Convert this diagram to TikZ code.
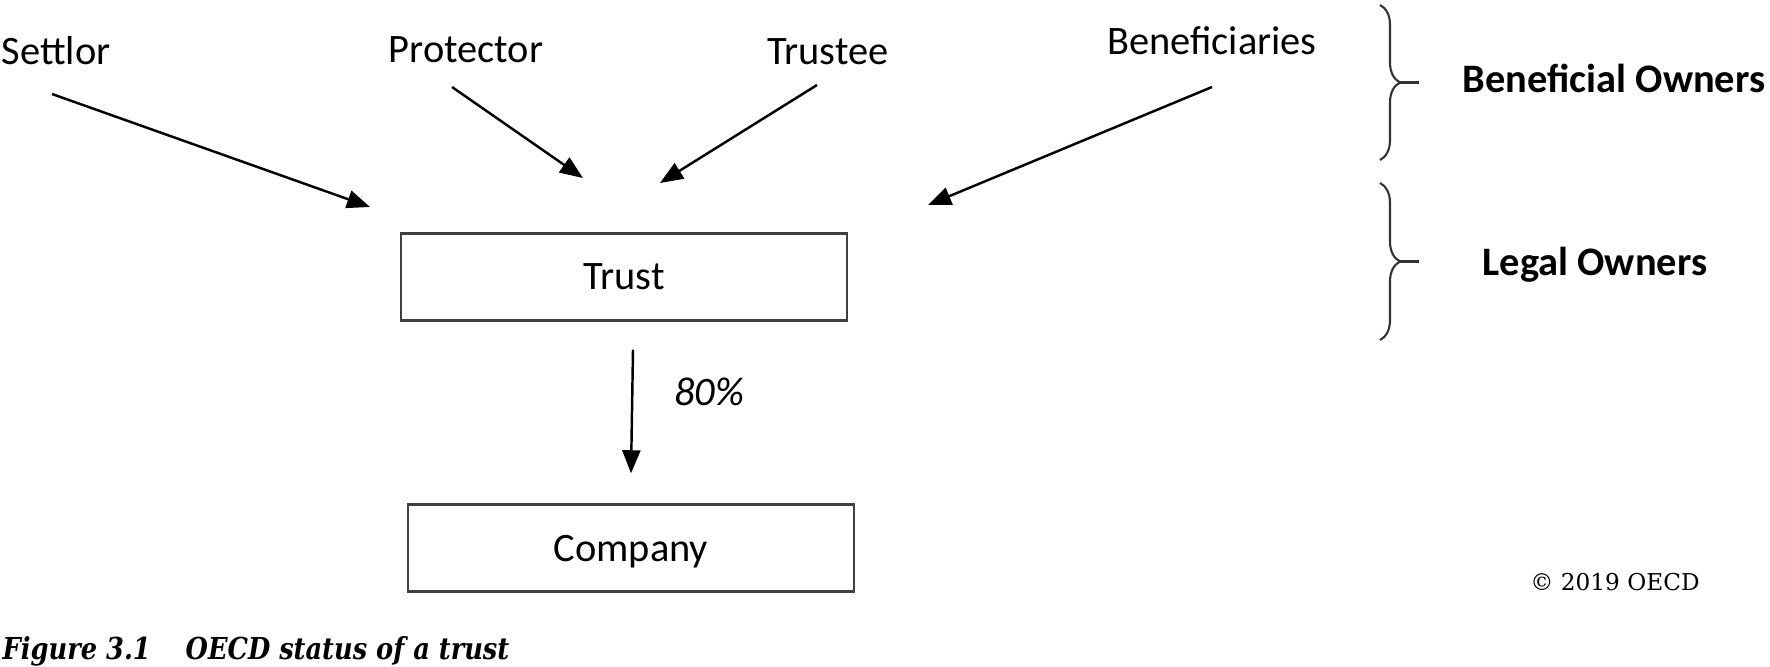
\documentclass[tikz,border=0pt]{standalone}
\usepackage{fontspec}
\setmainfont{Carlito}
\newfontfamily\oecdfont{DejaVu Serif}
\newfontfamily\capfont[FakeStretch=0.85]{DejaVu Serif}
\usetikzlibrary{arrows.meta,decorations.pathreplacing}

\begin{document}
\begin{tikzpicture}[>={Triangle[length=2.3mm,width=1.8mm]},
  font=\fontsize{11.5}{13}\selectfont,
  party/.style={anchor=base,inner sep=0pt},
  entity/.style={draw=black!75,line width=0.7pt,minimum width=4.46cm,
    minimum height=0.87cm,inner sep=0pt,text depth=0pt},
  link/.style={->,line width=0.7pt},
  owner/.style={decorate,decoration={brace,amplitude=0.2cm},line width=0.6pt,black!80},
  ownlabel/.style={anchor=base west,inner sep=0pt,font=\fontsize{11.5}{13}\selectfont\bfseries}]
  \useasboundingbox (0,0) rectangle (17.70,-6.67);
  % parties on top
  \node[party,anchor=base west] (settlor) at (0.01,-0.65) {Settlor};
  \node[party] (protector) at (4.66,-0.63) {Protector};
  \node[party] (trustee) at (8.28,-0.65) {Trustee};
  \node[party] (benef) at (12.12,-0.55) {Beneficiaries};
  % trust and company
  \node[entity] (trust) at (6.24,-2.77) {Trust};
  \node[entity] (company) at (6.31,-5.48) {Company};
  % arrows stop short of the trust box
  \coordinate (settlor-from) at (0.52,-0.94);   \coordinate (settlor-tip) at (3.70,-2.07);
  \coordinate (protector-from) at (4.52,-0.87); \coordinate (protector-tip) at (5.83,-1.78);
  \coordinate (trustee-from) at (8.17,-0.85);   \coordinate (trustee-tip) at (6.60,-1.83);
  \coordinate (benef-from) at (12.12,-0.87);    \coordinate (benef-tip) at (9.28,-2.05);
  \foreach \who in {settlor,protector,trustee,benef}
    \draw[link] (\who-from) -- (\who-tip);
  % 80% holding
  \draw[link] ([xshift=0.9mm,yshift=-2.8mm]trust.south) -- ([yshift=3.0mm]company.north);
  \node[party,font=\fontsize{11.5}{13}\selectfont\itshape] (share) at (7.09,-4.05) {80\%};
  % braces
  \coordinate (bo-top) at (13.80,-0.05); \coordinate (bo-bot) at (13.80,-1.60);
  \coordinate (lo-top) at (13.80,-1.83); \coordinate (lo-bot) at (13.80,-3.40);
  \draw[owner] (bo-top) -- (bo-bot);
  \draw[owner] (lo-top) -- (lo-bot);
  \draw[line width=0.6pt,black!80] (14.00,-0.825) -- (14.19,-0.825);
  \draw[line width=0.6pt,black!80] (14.00,-2.615) -- (14.19,-2.615);
  \node[ownlabel] (bo) at (14.62,-0.93) {Beneficial Owners};
  \node[ownlabel] (lo) at (14.82,-2.75) {Legal Owners};
  % source and caption
  \node[font=\oecdfont\fontsize{6.6}{8}\selectfont] (copy) at (16.15,-5.82) {© 2019 OECD};
  \node[anchor=base west,inner sep=0pt,font=\capfont\bfseries\itshape\fontsize{8.6}{10}\selectfont]
    (caption) at (0.02,-6.59) {Figure 3.1\hspace{1.15em}OECD status of a trust};
\end{tikzpicture}
\end{document}
